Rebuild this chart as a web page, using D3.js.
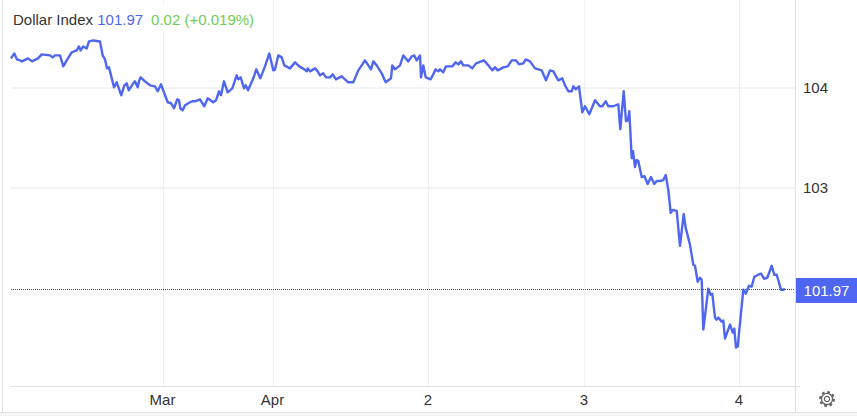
<!DOCTYPE html>
<html><head><meta charset="utf-8">
<script src="https://cdn.jsdelivr.net/npm/d3@7/dist/d3.min.js"></script>
<style>html,body{margin:0;padding:0;background:#fff;overflow:hidden}svg{display:block;font-family:"Liberation Sans",Arial,sans-serif}</style>
</head><body><div id="c"></div>
<script>
const instrument = "Dollar Index";
const lastLabel = "101.97";
const changeLabel = "0.02 (+0.019%)";
const yTicks = [103, 104];
const xTickLabels = ["Mar", "Apr", "2", "3", "4"];
const xTickTimes = [151.5, 261.5, 417, 573, 728];
const times = [0,3.3,6,9,11,17,21,27,30.7,39,41.7,44,49,52.3,55.7,60.7,65.7,68,69.7,72.3,75.7,78,82.3,89,91.7,94,96,98,103,105.7,110.3,113.3,115.7,117.7,122.3,124,126.7,128.3,129.7,134,139,144,146.7,150,153.3,156.7,160,163,166.3,168,169.3,171.7,174,179,181.3,184,189,193.3,196.7,202.3,205,208,210,213,216.7,221.3,225.7,227.3,229.7,233,234.7,237,242.3,245.3,249.3,254,258.3,262.3,264,267.3,270.7,273.3,279,284,288.3,293.3,295.7,296.7,299,304,306.7,309,312.3,315,319,321.7,325,330.7,337.3,342.3,347.3,350.7,354,360,362.3,365.7,370.7,374.7,380,381.3,384,389,392.3,397.3,400.7,403.3,405.7,409,410,412.3,414.7,419.7,424.7,427.3,429,432.3,435,441.3,444.7,447.3,450,452.3,457.3,461.3,465,473,477.3,481.3,484,486.7,492.3,496.7,500.7,505,508,512.3,514.7,519,524,530.7,535,539,542.3,547.3,551.3,554,557.3,560.7,562.3,564.7,568,571.3,574,578.3,584,589,591.3,594.7,597.3,602.3,607.3,609.3,612.7,615,617,618.3,620.7,622,624,625.7,627.3,630.7,633.3,636.7,640,643.3,645.7,649,652.3,654.7,657.3,659.7,661.7,665.7,669,672.7,674.7,679,682.3,684,686.7,689,690.7,692.3,697.3,699.7,701.3,704,705.7,707.3,710.7,712.3,714,719,721.7,723.3,725,726.7,732.3,734.7,738,740.7,743.3,747.3,750,753,756.3,760.7,763.3,765.7,770,772.3,774];
const values = [104.30,104.35,104.29,104.28,104.27,104.30,104.27,104.30,104.34,104.33,104.31,104.33,104.33,104.22,104.28,104.36,104.38,104.42,104.38,104.42,104.40,104.47,104.48,104.47,104.33,104.29,104.20,104.21,104.01,104.06,103.93,104.03,104.05,103.98,104.05,104.07,104.01,104.08,104.11,104.07,104.03,104.02,103.97,104.04,103.95,103.86,103.85,103.80,103.89,103.88,103.80,103.78,103.83,103.86,103.87,103.87,103.89,103.82,103.90,103.86,103.88,103.97,103.93,104.07,103.96,104.00,104.13,104.09,104.11,104.00,104.03,103.98,104.10,104.19,104.10,104.22,104.35,104.18,104.19,104.33,104.31,104.23,104.20,104.26,104.22,104.19,104.17,104.20,104.17,104.20,104.17,104.13,104.15,104.11,104.11,104.14,104.09,104.12,104.06,104.06,104.18,104.23,104.28,104.19,104.27,104.23,104.15,104.06,104.10,104.23,104.19,104.23,104.33,104.27,104.32,104.33,104.28,104.33,104.11,104.23,104.11,104.09,104.19,104.17,104.19,104.16,104.22,104.22,104.26,104.24,104.27,104.23,104.23,104.20,104.25,104.28,104.23,104.18,104.21,104.18,104.21,104.22,104.28,104.28,104.24,104.25,104.29,104.27,104.20,104.18,104.08,104.18,104.17,104.08,104.10,104.03,103.97,103.97,104.02,103.99,104.02,103.76,103.82,103.74,103.88,103.82,103.82,103.87,103.82,103.82,103.84,103.59,103.97,103.67,103.68,103.77,103.30,103.37,103.21,103.28,103.27,103.11,103.12,103.04,103.11,103.04,103.07,103.07,103.08,103.13,102.98,102.75,102.78,102.77,102.42,102.74,102.60,102.43,102.23,102.22,102.06,102.10,102.08,101.58,101.99,101.93,101.94,101.70,101.68,101.70,101.66,101.67,101.49,101.63,101.55,101.59,101.40,101.41,101.98,101.94,102.02,102.01,102.11,102.13,102.14,102.09,102.10,102.22,102.13,102.13,101.98,101.98,101.99];

const W = 857, H = 416;
const lineColor = "#4f66f2", gridH = "#e6e6e6", gridV = "#eef0f3", textDark = "#333";
const svg = d3.select("#c").append("svg").attr("width", W).attr("height", H);
const x = d3.scaleLinear().domain([0, 774]).range([11, 785]);
const y = d3.scaleLinear().domain([103, 104]).range([188, 88.3]);
const py = v => Math.round(y(v)) + 0.5;

svg.append("g").selectAll("line").data(xTickTimes).join("line")
  .attr("x1", d => Math.round(x(d)) + .5).attr("x2", d => Math.round(x(d)) + .5)
  .attr("y1", 0).attr("y2", 386).attr("stroke", gridV);
svg.append("g").selectAll("line").data(yTicks).join("line")
  .attr("x1", 11).attr("x2", 795).attr("y1", d => py(d) - 0.5).attr("y2", d => py(d) - 0.5)
  .attr("stroke", gridH);

const bc = "#e0e0e0";
svg.append("line").attr("x1", 2.5).attr("x2", 2.5).attr("y1", 0).attr("y2", 412).attr("stroke", bc);
svg.append("line").attr("x1", 795.5).attr("x2", 795.5).attr("y1", 0).attr("y2", 412).attr("stroke", bc);
svg.append("line").attr("x1", 11).attr("x2", 800).attr("y1", 386.5).attr("y2", 386.5).attr("stroke", bc);
svg.append("rect").attr("x", 0).attr("y", 412).attr("width", W).attr("height", 4).attr("fill", "#f5f5f5");
svg.append("line").attr("x1", 0).attr("x2", W).attr("y1", 412.5).attr("y2", 412.5).attr("stroke", "#e4e4e4");

const pts = d3.zip(times, values);
svg.append("path").datum(pts).attr("fill", "none").attr("stroke", lineColor)
  .attr("stroke-width", 2.4).attr("stroke-linejoin", "round")
  .attr("d", d3.line().x(d => x(d[0])).y(d => y(d[1])));

const last = values[values.length - 1];
svg.append("line").attr("x1", 11).attr("x2", 795).attr("y1", py(last)).attr("y2", py(last))
  .attr("stroke", "#44508f").attr("stroke-dasharray", "1 1");
svg.append("rect").attr("x", 796).attr("y", py(last) - 11.5).attr("width", 61).attr("height", 25).attr("fill", lineColor);
svg.append("text").attr("x", 826.5).attr("y", py(last) + 6.5).attr("text-anchor", "middle")
  .attr("font-size", 15).attr("fill", "#fff").text(lastLabel);

svg.append("g").selectAll("text").data(yTicks).join("text")
  .attr("x", 803).attr("y", d => py(d) + 4.5).attr("font-size", 15).attr("fill", textDark).text(d => d);
svg.append("g").selectAll("text").data(xTickLabels).join("text")
  .attr("x", (d, i) => x(xTickTimes[i])).attr("y", 405).attr("text-anchor", "middle")
  .attr("font-size", 15).attr("fill", textDark).text(d => d);

svg.append("rect").attr("x", 8).attr("y", 5).attr("width", 252).attr("height", 27).attr("fill", "#fff");
const title = svg.append("text").attr("x", 13).attr("y", 25).attr("font-size", 15);
title.append("tspan").attr("fill", textDark).text(instrument + " ");
title.append("tspan").attr("fill", lineColor).text(lastLabel);
title.append("tspan").attr("fill", "#6fcf50").attr("dx", 8).text(changeLabel);

const gear = svg.append("g").attr("transform", "translate(827,399)").attr("fill", "none").attr("stroke", "#666");
gear.append("circle").attr("r", 2.6).attr("stroke-width", 1.3);
gear.append("circle").attr("r", 5.6).attr("stroke-width", 1.4);
gear.append("circle").attr("r", 6.9).attr("stroke-width", 2.2).attr("stroke-dasharray", "2.7 2.72");
</script></body></html>
